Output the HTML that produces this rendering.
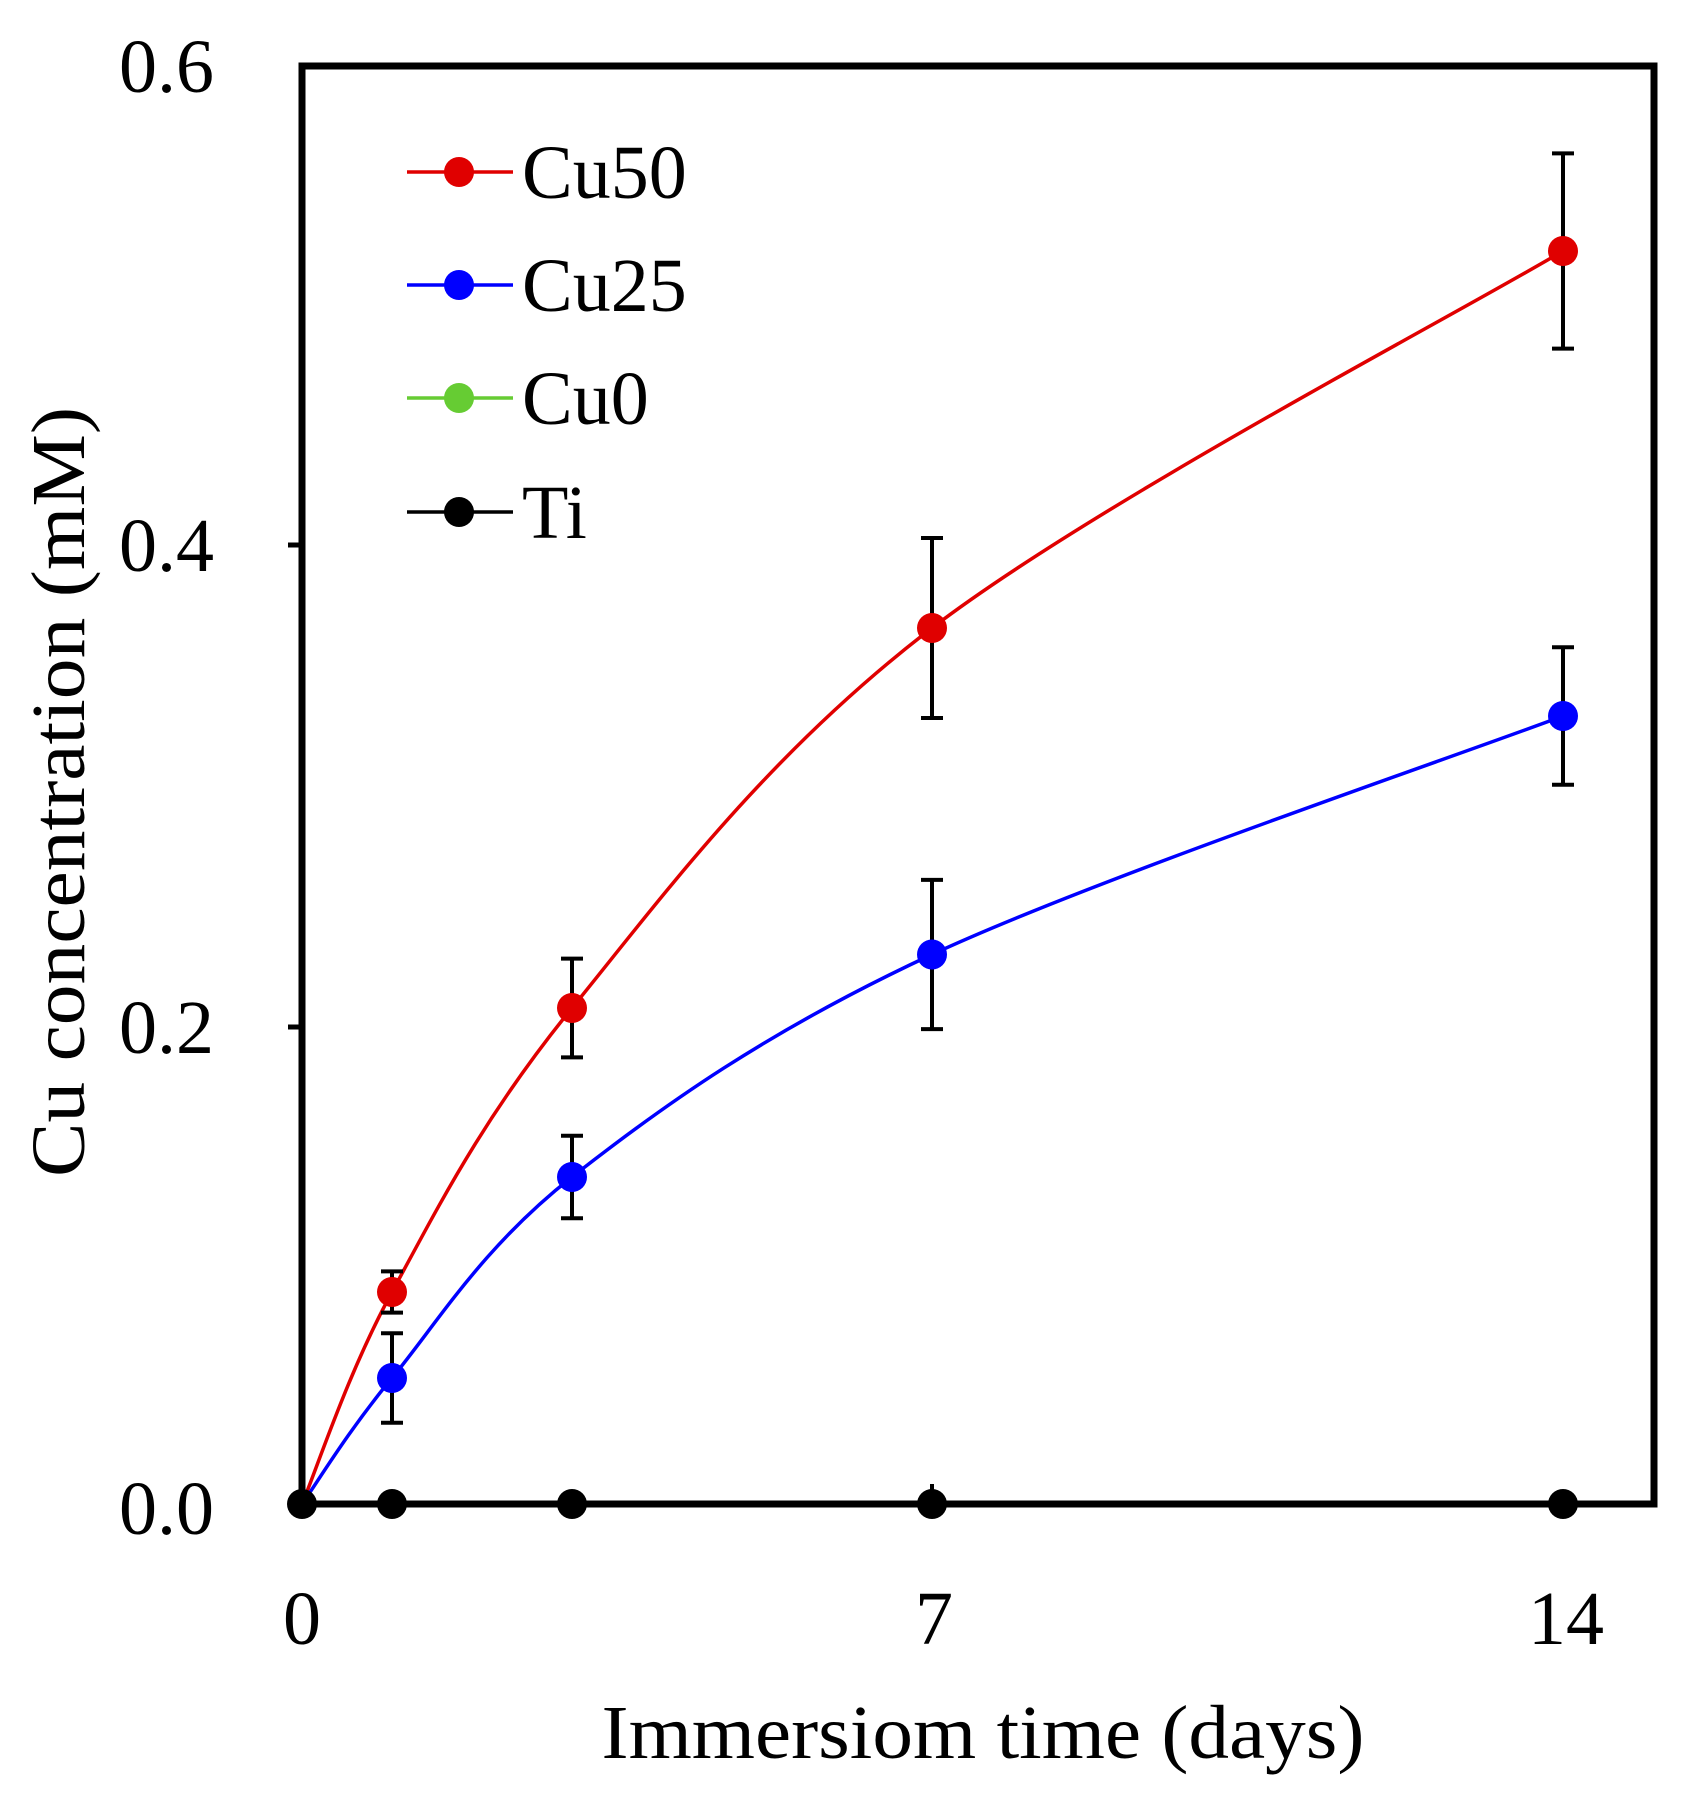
<!DOCTYPE html>
<html><head><meta charset="utf-8"><style>html,body{margin:0;padding:0;background:#fff}</style></head>
<body>
<svg width="1687" height="1795" viewBox="0 0 1687 1795" xmlns="http://www.w3.org/2000/svg" font-family="Liberation Serif, serif">
<rect width="1687" height="1795" fill="#fff"/>
<path d="M302,1504 C317,1468.7 347,1374.7 392,1292 C437,1209.3 482,1118.7 572,1008 C662,897.3 766.8,754.2 932,628 C1097.2,501.8 1457.8,313.8 1563,251" fill="none" stroke="#e00000" stroke-width="3.5"/>
<path d="M302,1504 C317,1483 347,1432.5 392,1378 C437,1323.5 482,1247.6 572,1177 C662,1106.4 766.8,1031.3 932,954.5 C1097.2,877.7 1457.8,755.75 1563,716" fill="none" stroke="#0000ff" stroke-width="3.5"/>
<g stroke="#000" stroke-width="4" fill="none">
<path d="M392,1271.4V1312.6M381,1271.4H403M381,1312.6H403"/>
<path d="M572,958.6V1057.4M561,958.6H583M561,1057.4H583"/>
<path d="M932,538V718M921,538H943M921,718H943"/>
<path d="M1563,153.4V348.6M1552,153.4H1574M1552,348.6H1574"/>
<path d="M392,1333.2V1422.8M381,1333.2H403M381,1422.8H403"/>
<path d="M572,1135.8V1218.2M561,1135.8H583M561,1218.2H583"/>
<path d="M932,879.9V1029.1M921,879.9H943M921,1029.1H943"/>
<path d="M1563,647.2V784.8M1552,647.2H1574M1552,784.8H1574"/>
<path d="M932,1484V1504"/>
</g>
<g fill="#e00000"><circle cx="392" cy="1292" r="15"/><circle cx="572" cy="1008" r="15"/><circle cx="932" cy="628" r="15"/><circle cx="1563" cy="251" r="15"/></g>
<g fill="#0000ff"><circle cx="392" cy="1378" r="15"/><circle cx="572" cy="1177" r="15"/><circle cx="932" cy="954.5" r="15"/><circle cx="1563" cy="716" r="15"/></g>
<rect x="302" y="66" width="1352" height="1438" fill="none" stroke="#000" stroke-width="7"/>
<g stroke="#000" stroke-width="5"><path d="M288,545H302M288,1027H302M932,1490V1504"/></g>
<g fill="#000"><circle cx="302" cy="1504" r="15"/><circle cx="392" cy="1504" r="15"/><circle cx="572" cy="1504" r="15"/><circle cx="932" cy="1504" r="15"/><circle cx="1563" cy="1504" r="15"/></g>
<g font-size="76" text-anchor="end" fill="#000">
<text x="214" y="92">0.6</text><text x="214" y="571">0.4</text><text x="214" y="1053">0.2</text><text x="214" y="1534">0.0</text>
</g>
<g font-size="76" text-anchor="middle" fill="#000">
<text x="302" y="1644">0</text><text x="934" y="1644">7</text><text x="1566" y="1644">14</text>
</g>
<text x="983" y="1758" font-size="76" text-anchor="middle" textLength="763" lengthAdjust="spacingAndGlyphs">Immersiom time (days)</text>
<text transform="translate(84,792) rotate(-90)" font-size="76" text-anchor="middle" textLength="770" lengthAdjust="spacingAndGlyphs">Cu concentration (mM)</text>
<g stroke-width="3.5">
<line x1="407" y1="172" x2="513" y2="172" stroke="#e00000"/><circle cx="459" cy="172" r="15" fill="#e00000"/>
<line x1="407" y1="285" x2="513" y2="285" stroke="#0000ff"/><circle cx="459" cy="285" r="15" fill="#0000ff"/>
<line x1="407" y1="398" x2="513" y2="398" stroke="#66cc33"/><circle cx="459" cy="398" r="15" fill="#66cc33"/>
<line x1="407" y1="512" x2="513" y2="512" stroke="#000"/><circle cx="459" cy="512" r="15" fill="#000"/>
</g>
<g font-size="76" fill="#000">
<text x="522" y="198">Cu50</text><text x="522" y="311">Cu25</text><text x="522" y="424">Cu0</text><text x="522" y="538">Ti</text>
</g>
</svg>
</body></html>
